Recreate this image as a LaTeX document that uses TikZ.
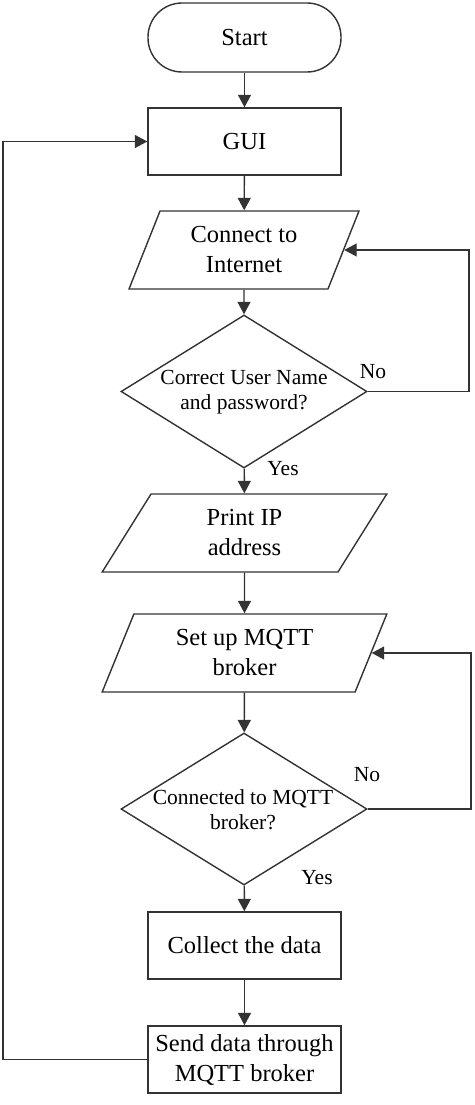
\documentclass[tikz,border=0pt]{standalone}
\usepackage{fontspec}
\setmainfont{Liberation Serif}
\usetikzlibrary{shapes.geometric,arrows.meta}
\begin{document}
\begin{tikzpicture}[x=1pt,y=-1pt,
 line/.style={draw=black!80, line width=1.4pt},
 arr/.style={line, -{Triangle[length=12.5pt,width=13pt]}},
 box/.style={draw=black!80, line width=1.4pt, minimum width=193pt, minimum height=67pt, inner sep=0pt, font=\fontsize{24.5}{30}\selectfont, align=center},
 term/.style={box, rounded corners=34pt, minimum height=69pt},
 io/.style={box, trapezium, trapezium left angle=67, trapezium right angle=113, trapezium stretches=true, minimum height=78pt},
 dec/.style={draw=black!80, line width=1.4pt, diamond, minimum width=246pt, minimum height=153pt, inner sep=0pt},
 dtext/.style={font=\fontsize{21.5}{25}\selectfont, align=center, inner sep=0pt},
 lab/.style={font=\fontsize{21.5}{25}\selectfont, inner sep=0pt}]
\useasboundingbox (0,0) rectangle (474,1105);
\node[term] (start) at (244.5,37.5) {Start};
\node[box] (gui) at (244.5,141.5) {GUI};
\node[io, minimum width=230pt] (conn) at (244,250) {Connect to\\Internet};
\node[dec] (d1) at (244,391.5) {};
\node[dtext] (d1t) at (244,392) {Correct User Name\\and password?};
\node[io, minimum width=285pt] (print) at (244.5,533) {Print IP\\address};
\node[io, minimum width=285pt] (setup) at (244.5,653) {Set up MQTT\\broker};
\node[dec, minimum height=152pt] (d2) at (244,809) {};
\node[dtext] (d2t) at (243,810) {Connected to MQTT\\broker?};
\node[box] (collect) at (244.5,945.5) {Collect the data};
\node[box] (send) at (244.5,1059.5) {Send data through\\MQTT broker};
\node[lab] (no1) at (373,372) {No};
\node[lab] (yes1) at (283,469) {Yes};
\node[lab] (no2) at (367,775) {No};
\node[lab] (yes2) at (317,878) {Yes};
\coordinate (r1) at (469,0);
\coordinate (r2) at (471,0);
\coordinate (l1) at (3,0);
\draw[arr] (start) -- (gui);
\draw[arr] (gui) -- (conn);
\draw[arr] (conn) -- (d1);
\draw[arr] (d1) -- (print);
\draw[arr] (print) -- (setup);
\draw[arr] (setup) -- (d2);
\draw[arr] (d2) -- (collect);
\draw[arr] (collect) -- (send);
\draw[arr] (d1.east) -- (d1.east -| r1) -- (conn.east -| r1) -- (conn.east);
\draw[arr] (d2.east) -- (d2.east -| r2) -- (setup.east -| r2) -- (setup.east);
\draw[arr] (send.west) -- (send.west -| l1) -- (gui.west -| l1) -- (gui.west);
\end{tikzpicture}
\end{document}
